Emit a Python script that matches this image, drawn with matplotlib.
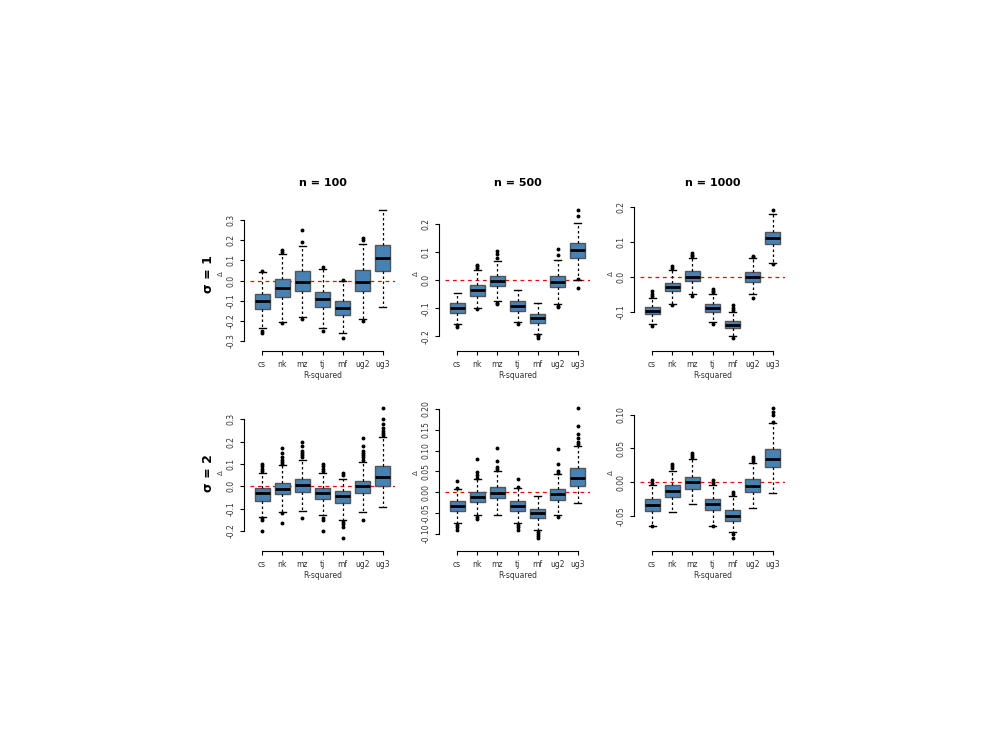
import matplotlib
matplotlib.use("Agg")
import matplotlib.pyplot as plt

methods = ["cs", "nk", "mz", "tj", "mf", "ug2", "ug3"]
col_titles = ["n = 100", "n = 500", "n = 1000"]
row_titles = ["σ = 1", "σ = 2"]

# each: [whislo, q1, med, q3, whishi] per method, plus fliers
p11 = [[-0.235, -0.14, -0.10, -0.065, 0.04], [-0.205, -0.08, -0.035, 0.01, 0.13],
       [-0.18, -0.05, -0.005, 0.045, 0.17], [-0.235, -0.13, -0.09, -0.055, 0.055],
       [-0.26, -0.17, -0.135, -0.10, 0.0], [-0.19, -0.05, -0.005, 0.05, 0.18],
       [-0.13, 0.045, 0.11, 0.175, 0.35]]
f11 = [[-0.25, -0.26, 0.045], [0.14, 0.15, -0.21], [0.19, 0.25, -0.19], [0.065, -0.25],
       [0.005, -0.285], [0.2, 0.21, -0.2], []]
p12 = [[-0.155, -0.115, -0.098, -0.08, -0.045], [-0.10, -0.055, -0.033, -0.015, 0.037],
       [-0.075, -0.02, -0.002, 0.015, 0.07], [-0.15, -0.108, -0.09, -0.075, -0.033],
       [-0.19, -0.153, -0.135, -0.12, -0.08], [-0.085, -0.025, -0.005, 0.015, 0.072],
       [0.0, 0.08, 0.108, 0.133, 0.205]]
f12 = [[-0.16, -0.165], [0.045, 0.05, 0.055, -0.102], [0.08, 0.095, 0.105, -0.08, -0.085],
       [-0.155], [-0.195, -0.2, -0.205], [0.09, 0.11, -0.09, -0.095], [0.23, 0.25, 0.003, -0.027]]
p13 = [[-0.135, -0.108, -0.098, -0.088, -0.06], [-0.078, -0.042, -0.03, -0.018, 0.018],
       [-0.05, -0.012, 0.0, 0.015, 0.052], [-0.13, -0.1, -0.09, -0.078, -0.05],
       [-0.17, -0.146, -0.137, -0.126, -0.1], [-0.05, -0.015, -0.001, 0.013, 0.053],
       [0.04, 0.092, 0.11, 0.128, 0.18]]
f13 = [[-0.04, -0.05, -0.055, -0.14], [0.025, 0.03, -0.082], [0.058, 0.062, 0.067, -0.055],
       [-0.035, -0.04, -0.045, -0.135], [-0.08, -0.09, -0.095, -0.175], [0.056, 0.06, -0.06],
       [0.19, 0.035]]
p21 = [[-0.135, -0.065, -0.03, -0.005, 0.06], [-0.115, -0.035, -0.01, 0.015, 0.095],
       [-0.11, -0.025, 0.005, 0.035, 0.12], [-0.13, -0.055, -0.03, -0.005, 0.06],
       [-0.15, -0.075, -0.045, -0.02, 0.035], [-0.115, -0.03, 0.0, 0.025, 0.11],
       [-0.09, 0.0, 0.04, 0.09, 0.22]]
f21 = [[0.07, 0.08, 0.09, 0.1, -0.14, -0.15, -0.2], [0.1, 0.11, 0.12, 0.13, 0.15, 0.17, -0.12, -0.165],
       [0.13, 0.14, 0.15, 0.16, 0.18, 0.2, -0.14], [0.07, 0.08, 0.09, 0.1, -0.14, -0.15, -0.2],
       [0.05, 0.06, -0.16, -0.17, -0.18, -0.23], [0.12, 0.13, 0.14, 0.15, 0.16, 0.18, 0.215, -0.15],
       [0.23, 0.24, 0.25, 0.26, 0.28, 0.3, 0.35]]
p22 = [[-0.075, -0.045, -0.033, -0.022, 0.007], [-0.055, -0.025, -0.012, 0.0, 0.031],
       [-0.055, -0.015, -0.002, 0.013, 0.052], [-0.075, -0.045, -0.033, -0.022, 0.01],
       [-0.09, -0.063, -0.05, -0.04, -0.01], [-0.055, -0.02, -0.005, 0.007, 0.043],
       [-0.027, 0.015, 0.035, 0.057, 0.11]]
f22 = [[0.01, 0.027, -0.08, -0.085, -0.09], [0.035, 0.04, 0.048, 0.08, -0.06, -0.065],
       [0.055, 0.06, 0.075, 0.105], [0.012, 0.032, -0.08, -0.085, -0.09], [-0.095, -0.1, -0.105, -0.11],
       [0.045, 0.05, 0.068, 0.104, -0.06], [0.115, 0.12, 0.13, 0.14, 0.158, 0.202]]
p23 = [[-0.065, -0.043, -0.034, -0.025, -0.005], [-0.045, -0.022, -0.013, -0.005, 0.017],
       [-0.033, -0.01, 0.0, 0.008, 0.035], [-0.065, -0.042, -0.033, -0.025, -0.005],
       [-0.075, -0.058, -0.05, -0.042, -0.02], [-0.038, -0.015, -0.006, 0.004, 0.029],
       [-0.016, 0.022, 0.035, 0.049, 0.088]]
f23 = [[-0.002, 0.003, -0.066], [0.021, 0.024, 0.027], [0.038, 0.041, 0.044], [-0.002, 0.003, -0.066],
       [-0.015, -0.018, -0.078, -0.083], [0.032, 0.035, 0.038], [0.09, 0.1, 0.105, 0.11]]

panels = [[(p11, f11), (p12, f12), (p13, f13)], [(p21, f21), (p22, f22), (p23, f23)]]
yticks = [[[-0.3, -0.2, -0.1, 0.0, 0.1, 0.2, 0.3], [-0.2, -0.1, 0.0, 0.1, 0.2], [-0.1, 0.0, 0.1, 0.2]],
          [[-0.2, -0.1, 0.0, 0.1, 0.2, 0.3], [-0.10, -0.05, 0.0, 0.05, 0.10, 0.15, 0.20], [-0.05, 0.0, 0.05, 0.10]]]
fmts = [["%.1f", "%.1f", "%.1f"], ["%.1f", "%.2f", "%.2f"]]

fig = plt.figure(figsize=(10, 7.5), dpi=100)
col_x = [250, 445, 640]
row_y = [(205, 343), (403, 543)]
gray = "#333333"
for r in range(2):
    for c in range(3):
        st, fl = panels[r][c]
        x0 = col_x[c]
        top, bot = row_y[r]
        ax = fig.add_axes([x0 / 1000, 1 - bot / 750, 145 / 1000, (bot - top) / 750])
        stats = []
        for m, s, f in zip(methods, st, fl):
            stats.append(dict(label=m, whislo=s[0], q1=s[1], med=s[2], q3=s[3], whishi=s[4], fliers=f))
        ax.axhline(0, color="red", ls=(0, (3, 3)), lw=0.9, zorder=0)
        ax.bxp(stats, positions=range(1, 8), widths=0.75, patch_artist=True,
               boxprops=dict(facecolor="#4682B4", edgecolor="#555555", lw=1),
               medianprops=dict(color="black", lw=2),
               whiskerprops=dict(color="black", ls=(0, (2, 2)), lw=0.9),
               capprops=dict(color="black", lw=1), capwidths=0.35,
               flierprops=dict(marker="o", markersize=1.8, markerfacecolor="black",
                               markeredgecolor="black"))
        allv = [v for s in st for v in s] + [v for f in fl for v in f]
        lo, hi = min(allv), max(allv)
        pad = 0.04 * (hi - lo)
        ax.set_ylim(lo - pad, hi + pad)
        ax.set_xlim(0.4, 7.6)
        for sp in ["top", "right"]:
            ax.spines[sp].set_visible(False)
        ax.spines["left"].set_position(("outward", 4))
        ax.spines["bottom"].set_position(("outward", 6))
        ax.spines["left"].set_bounds(yticks[r][c][0], yticks[r][c][-1])
        ax.spines["bottom"].set_bounds(1, 7)
        ax.set_yticks(yticks[r][c])
        ax.set_yticklabels([fmts[r][c] % v for v in yticks[r][c]], rotation=90, va="center",
                           fontsize=5.5, color=gray)
        ax.set_xticks(range(1, 8))
        ax.set_xticklabels(methods, fontsize=5.5, color=gray)
        ax.tick_params(length=3, width=0.8)
        ax.set_xlabel("R-squared", fontsize=5.5, color=gray, labelpad=1)
        ax.set_ylabel("Δ", fontsize=5, color=gray, labelpad=2)
        if r == 0:
            ax.set_title(col_titles[c], fontsize=8, fontweight="bold", pad=14)
        if c == 0:
            fig.text(0.209, 1 - ((top + bot) / 2) / 750, row_titles[r], rotation=90,
                     fontsize=9, fontweight="bold", ha="center", va="center")
fig.savefig("out.png", dpi=100)
